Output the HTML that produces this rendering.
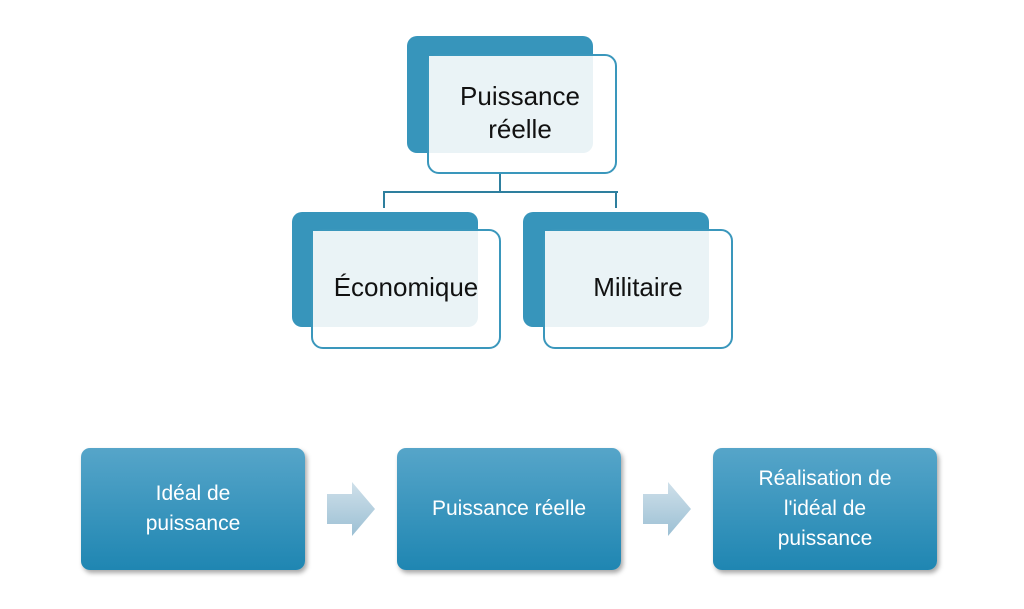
<!DOCTYPE html>
<html><head><meta charset="utf-8"><style>
body{margin:0;width:1024px;height:609px;background:#fff;position:relative;overflow:hidden;font-family:"Liberation Sans",sans-serif}
.a{position:absolute;box-sizing:border-box}
.dk{background:#3795bb;border-radius:10px}
.lt{border:2.5px solid #3a97bc;border-radius:12px;background:#fff}
.ov{background:#eaf3f6;border-radius:0 0 10px 0}
.t{position:absolute;color:#111;font-size:26px;text-align:center;line-height:33px}
.bx{position:absolute;border-radius:9px;background:linear-gradient(#56a5c9,#1f86b2);box-shadow:2px 3px 5px rgba(0,0,0,.35);color:#fff;font-size:21px;line-height:30px;display:flex;align-items:center;justify-content:center;text-align:center}
.ln{position:absolute;background:#2e7f9e}
</style></head><body>
<div class="a dk" style="left:407px;top:36px;width:186px;height:117px"></div>
<div class="a lt" style="left:427px;top:54px;width:190px;height:120px"></div>
<div class="a ov" style="left:429px;top:56px;width:164px;height:97px"></div>
<div class="t" style="left:430px;top:80px;width:180px">Puissance<br>réelle</div>

<div class="ln" style="left:499px;top:174px;width:2px;height:18px"></div>
<div class="ln" style="left:383px;top:191px;width:235px;height:2px"></div>
<div class="ln" style="left:383px;top:191px;width:2px;height:17px"></div>
<div class="ln" style="left:615px;top:191px;width:2px;height:17px"></div>

<div class="a dk" style="left:292px;top:212px;width:186px;height:115px"></div>
<div class="a lt" style="left:311px;top:229px;width:190px;height:120px"></div>
<div class="a ov" style="left:313px;top:231px;width:165px;height:96px"></div>
<div class="t" style="left:311px;top:271px;width:190px">Économique</div>

<div class="a dk" style="left:523px;top:212px;width:186px;height:115px"></div>
<div class="a lt" style="left:543px;top:229px;width:190px;height:120px"></div>
<div class="a ov" style="left:545px;top:231px;width:164px;height:96px"></div>
<div class="t" style="left:548px;top:271px;width:180px">Militaire</div>

<div class="bx" style="left:81px;top:448px;width:224px;height:122px">Idéal de<br>puissance</div>
<div class="bx" style="left:397px;top:448px;width:224px;height:122px">Puissance réelle</div>
<div class="bx" style="left:713px;top:448px;width:224px;height:122px">Réalisation de<br>l'idéal de<br>puissance</div>

<svg class="a" style="left:0;top:0" width="1024" height="609">
<defs><linearGradient id="g" x1="0" y1="0" x2="0" y2="1"><stop offset="0" stop-color="#cfe0ea"/><stop offset="1" stop-color="#9cc0d4"/></linearGradient></defs>
<polygon points="327,494 352,494 352,482 375,509 352,536 352,524 327,524" fill="url(#g)"/>
<polygon points="643,494 668,494 668,482 691,509 668,536 668,524 643,524" fill="url(#g)"/>
</svg>
</body></html>
